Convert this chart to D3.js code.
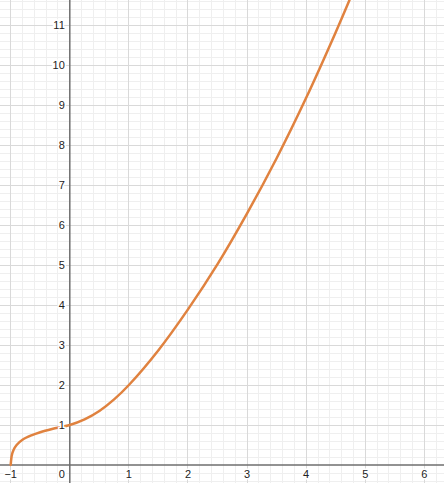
<!DOCTYPE html>
<html lang="en">
<meta charset="UTF-8">
<title>Curve</title>
<style>
  body { margin: 0; background: #fff; }
  svg { display: block; }
  .tick-label { font-family: "Liberation Sans", Arial, sans-serif; font-size: 11px; fill: #222;
    stroke: #fff; stroke-width: 3px; paint-order: stroke; }
</style>
<script src="https://d3js.org/d3.v7.min.js"></script>
<body>
<svg id="chart" width="444" height="483"></svg>
<script>
// points
var xs = [-1, -0.98, -0.95, -0.9, -0.8, -0.65, -0.5, -0.3, 0, 0.25, 0.5, 0.75, 1, 1.5, 2, 2.5, 3, 3.5, 4, 4.5, 4.8];
var ys = [0, 0.25, 0.38, 0.5, 0.63, 0.74, 0.82, 0.9, 1.0, 1.14, 1.35, 1.64, 2.0, 2.87, 3.89, 5.02, 6.29, 7.67, 9.18, 10.82, 11.86];

var xTicks = [-1, 1, 2, 3, 4, 5, 6];
var yTicks = [1, 2, 3, 4, 5, 6, 7, 8, 9, 10, 11];

var width = 444, height = 483;
var svg = d3.select("#chart");

var x = d3.scaleLinear().domain([-1.181, 6.332]).range([0, width]);
var y = d3.scaleLinear().domain([-0.45, 11.625]).range([height, 0]);

// minor grid every 0.2
var minorX = d3.range(-6, 32).map(function(i) { return i / 5; }).filter(function(v) { return v % 1 !== 0; });
var minorY = d3.range(-2, 59).map(function(i) { return i / 5; }).filter(function(v) { return v % 1 !== 0; });

var grid = svg.append("g").attr("shape-rendering", "crispEdges");
grid.selectAll("line.mx").data(minorX).enter().append("line")
  .attr("x1", d => x(d)).attr("x2", d => x(d)).attr("y1", 0).attr("y2", height)
  .attr("stroke", "#efefef").attr("stroke-width", 1);
grid.selectAll("line.my").data(minorY).enter().append("line")
  .attr("y1", d => y(d)).attr("y2", d => y(d)).attr("x1", 0).attr("x2", width)
  .attr("stroke", "#efefef").attr("stroke-width", 1);

// major grid every 1
grid.selectAll("line.Mx").data(d3.range(-1, 7).filter(d => d !== 0)).enter().append("line")
  .attr("x1", d => x(d)).attr("x2", d => x(d)).attr("y1", 0).attr("y2", height)
  .attr("stroke", "#d9d9d9").attr("stroke-width", 1);
grid.selectAll("line.My").data(d3.range(1, 12)).enter().append("line")
  .attr("y1", d => y(d)).attr("y2", d => y(d)).attr("x1", 0).attr("x2", width)
  .attr("stroke", "#d9d9d9").attr("stroke-width", 1);

// axes
svg.append("line").attr("x1", x(0)).attr("x2", x(0)).attr("y1", 0).attr("y2", height)
  .attr("stroke", "#6e6e6e").attr("stroke-width", 1.5);
svg.append("line").attr("y1", y(0)).attr("y2", y(0)).attr("x1", 0).attr("x2", width)
  .attr("stroke", "#6e6e6e").attr("stroke-width", 1.5);

// curve
var line = d3.line()
  .x((d, i) => x(xs[i]))
  .y((d, i) => y(ys[i]))
  .curve(d3.curveCatmullRom.alpha(0.5));
svg.append("path").datum(xs)
  .attr("d", line)
  .attr("fill", "none")
  .attr("stroke", "#e0823f")
  .attr("stroke-width", 2.5)
  .attr("stroke-linecap", "round");

// labels
svg.selectAll("text.xl").data(xTicks).enter().append("text")
  .attr("class", "tick-label")
  .attr("x", d => x(d)).attr("y", y(0) + 13)
  .attr("text-anchor", "middle")
  .text(d => d < 0 ? "\u2212" + Math.abs(d) : d);
svg.selectAll("text.yl").data(yTicks).enter().append("text")
  .attr("class", "tick-label")
  .attr("x", x(0) - 5).attr("y", d => y(d) + 4)
  .attr("text-anchor", "end")
  .text(d => d);
svg.append("text").attr("class", "tick-label")
  .attr("x", x(0) - 5).attr("y", y(0) + 13)
  .attr("text-anchor", "end")
  .text("0");
</script>
</body>
</html>
